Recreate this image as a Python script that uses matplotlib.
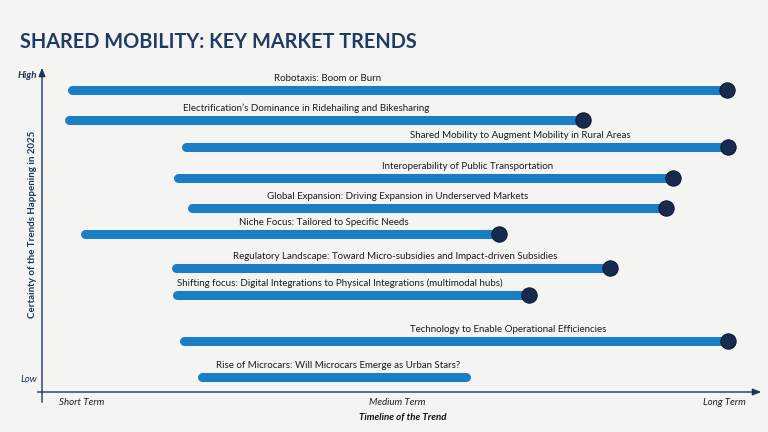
import matplotlib
matplotlib.use('Agg')
import matplotlib.pyplot as plt

# trends, top to bottom
trends = [
    "Robotaxis: Boom or Burn",
    "Electrification\u2019s Dominance in Ridehailing and Bikesharing",
    "Shared Mobility to Augment Mobility in Rural Areas",
    "Interoperability of Public Transportation",
    "Global Expansion: Driving Expansion in Underserved Markets",
    "Niche Focus: Tailored to Specific Needs",
    "Regulatory Landscape: Toward Micro-subsidies and Impact-driven Subsidies",
    "Shifting focus: Digital Integrations to Physical Integrations (multimodal hubs)",
    "Technology to Enable Operational Efficiencies",
    "Rise of Microcars: Will Microcars Emerge as Urban Stars?",
]
# timeline (0 = axis origin, 100 = arrow tip)
start = [4.1, 3.8, 19.9, 18.9, 20.8, 6.0, 18.6, 18.7, 19.7, 22.2]
end = [94.9, 74.9, 95.0, 87.4, 86.4, 63.3, 78.7, 67.5, 95.0, 58.7]
# certainty of happening in 2025 (0 = low, 100 = top of axis)
certainty = [92.4, 83.2, 74.9, 65.4, 56.3, 48.3, 37.9, 29.7, 15.6, 4.6]
label_x = [39.6, 36.6, 66.2, 59.0, 49.3, 39.1, 48.9, 41.3, 64.5, 41.0]
has_dot = [True] * 9 + [False]

term_labels = ["Short Term", "Medium Term", "Long Term"]
term_pos = [5.5, 49.2, 94.5]

navy = "#1d3557"
bar_col = "#1b7dc4"
dot_col = "#172b4f"
font = ["Lato", "DejaVu Sans"]

fig = plt.figure(figsize=(7.68, 4.32), dpi=100)
fig.patch.set_facecolor("#f4f4f3")

W, H = 768, 432
ax = fig.add_axes([42 / W, (H - 392) / H, (764 - 42) / W, (392 - 65) / H])
ax.set_xlim(0, 100)
ax.set_ylim(0, 100)
ax.axis("off")

# axes with arrows
ax.annotate("", xy=(100, 0), xytext=(-1.0, 0), xycoords="data",
            arrowprops=dict(arrowstyle="-|>,head_length=0.5,head_width=0.2", color=navy, lw=1.0),
            annotation_clip=False)
ax.annotate("", xy=(0, 100), xytext=(0, -4.0), xycoords="data",
            arrowprops=dict(arrowstyle="-|>,head_length=0.5,head_width=0.2", color=navy, lw=1.0),
            annotation_clip=False)

for name, s, e, y, lx, dot in zip(trends, start, end, certainty, label_x, has_dot):
    ax.plot([s, e], [y, y], color=bar_col, lw=6.5, solid_capstyle="round", zorder=2,
            clip_on=False)
    if dot:
        ax.plot(e, y, "o", ms=11, color=dot_col, mec="#0e1a33", mew=0.8, zorder=3,
                clip_on=False)
    ax.annotate(name, (lx, y), xytext=(0, 8.5), textcoords="offset points",
                ha="center", va="center", fontsize=7, color="#1c1c1c", family=font)

for t, p in zip(term_labels, term_pos):
    ax.annotate(t, (p, 0), xytext=(0, -4), textcoords="offset points", ha="center",
                va="top", fontsize=7, style="italic", color="#222222", family=font)

ax.text(50, -7.9, "Timeline of the Trend", ha="center",
        va="center", fontsize=7, style="italic", weight="bold", color="#111111",
        family=font)

fig.text(37 / W, 1 - 76 / H, "High", ha="right", va="center", fontsize=7,
         style="italic", weight="bold", color=navy, family=font)
fig.text(37 / W, 1 - 379 / H, "Low", ha="right", va="center", fontsize=7,
         style="italic", color=navy, family=font)
fig.text(33 / W, 1 - 224 / H, "Certainty of the Trends Happening in 2025", rotation=90,
         ha="center", va="center", fontsize=7, weight="bold", color=navy, family=font)

fig.text(20 / W, 1 - 42 / H, "SHARED MOBILITY: KEY MARKET TRENDS", ha="left",
         va="center", fontsize=14.3, weight="bold", color="#1f3b63", family=font)

fig.savefig("out.png", dpi=100, facecolor=fig.get_facecolor())
